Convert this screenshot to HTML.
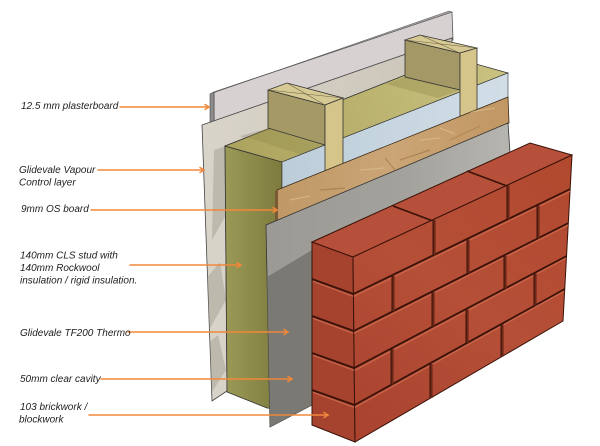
<!DOCTYPE html>
<html><head><meta charset="utf-8">
<style>html,body{margin:0;padding:0;background:#fff;width:600px;height:446px;overflow:hidden}</style>
</head>
<body>
<svg width="600" height="446" viewBox="0 0 600 446" xmlns="http://www.w3.org/2000/svg">
<defs>
<linearGradient id="vap" gradientUnits="userSpaceOnUse" x1="202" y1="0" x2="452" y2="0"><stop offset="0" stop-color="#d9d4c9"/><stop offset="1" stop-color="#cbc5b8"/></linearGradient>
<linearGradient id="oliveEnd" gradientUnits="userSpaceOnUse" x1="225" y1="0" x2="282" y2="0"><stop offset="0" stop-color="#9b9956"/><stop offset="1" stop-color="#7d7b3d"/></linearGradient>
<linearGradient id="oliveTop" gradientUnits="userSpaceOnUse" x1="225" y1="146" x2="508" y2="73"><stop offset="0" stop-color="#aba35d"/><stop offset="1" stop-color="#cac281"/></linearGradient>
<linearGradient id="blue" gradientUnits="userSpaceOnUse" x1="282" y1="0" x2="508" y2="0"><stop offset="0" stop-color="#bccdd9"/><stop offset="1" stop-color="#d2dee7"/></linearGradient>
<linearGradient id="osb" gradientUnits="userSpaceOnUse" x1="277" y1="0" x2="508" y2="0"><stop offset="0" stop-color="#bf9866"/><stop offset="0.5" stop-color="#cba576"/><stop offset="1" stop-color="#c19763"/></linearGradient>
<linearGradient id="gray" gradientUnits="userSpaceOnUse" x1="266" y1="0" x2="510" y2="0"><stop offset="0" stop-color="#9c9a95"/><stop offset="0.55" stop-color="#a3a19b"/><stop offset="1" stop-color="#b7b5af"/></linearGradient>
<linearGradient id="brick" gradientUnits="userSpaceOnUse" x1="355" y1="440" x2="570" y2="160"><stop offset="0" stop-color="#a9432f"/><stop offset="0.5" stop-color="#b54f37"/><stop offset="1" stop-color="#b1492f"/></linearGradient>
<clipPath id="osbClip"><polygon points="277,190 508,97 509,123 277,221"/></clipPath>
<clipPath id="vapClip"><polygon points="202,125 452,38 452,57 225,146 227,391 212,401"/></clipPath>
</defs>

<!-- Plasterboard -->
<polygon points="214,92 452,12 453,40 214,122" fill="#d8d1d1" stroke="#555" stroke-width="0.8"/>
<polygon points="210,94 449,11 452,12 214,92" fill="#a6a2a2" stroke="#555" stroke-width="0.5"/>
<polygon points="210,94 214,92 214,122 210,124" fill="#8d8d8d" stroke="#444" stroke-width="0.6"/>

<!-- Vapour layer -->
<polygon points="202,125 452,38 452,57 225,146 227,391 212,401" fill="url(#vap)" stroke="#444" stroke-width="0.8"/>
<g clip-path="url(#vapClip)" fill="#9e998d" opacity="0.45">
<polygon points="214,150 226,146 226,215 212,240"/>
<polygon points="205,280 220,262 226,300 209,330"/>
<polygon points="206,345 218,335 226,370 212,392"/>
<polygon points="300,118 330,108 318,124"/>
<polygon points="380,88 410,78 396,95"/>
<polygon points="240,136 262,130 250,142"/>
</g>

<!-- Olive insulation end face -->
<polygon points="225,146 282,162 282,410 267,408 227,392" fill="url(#oliveEnd)" stroke="#333" stroke-width="0.8"/>
<!-- Olive top -->
<polygon points="225,146 451,57 508,73 282,162" fill="url(#oliveTop)" stroke="#333" stroke-width="0.8"/>
<polygon points="268,128 325,145 300,154 246,137" fill="#8f8848" opacity="0.35"/>
<polygon points="405,77 460,90 438,98 386,84" fill="#8f8848" opacity="0.35"/>
<!-- Blue rigid face -->
<polygon points="282,162 508,73 508,98 282,190" fill="url(#blue)" stroke="#333" stroke-width="0.6"/>

<!-- Stud 1 -->
<polygon points="268,90 325,105 325,145 268,128" fill="#a59a66" stroke="#333" stroke-width="0.8"/>
<polygon points="268,90 287,83 343,98 325,105" fill="#d6c994" stroke="#333" stroke-width="0.8"/>
<line x1="268" y1="90" x2="343" y2="98" stroke="#6a6040" stroke-width="0.6"/>
<line x1="287" y1="83" x2="325" y2="105" stroke="#6a6040" stroke-width="0.6"/>
<polygon points="325,105 343,98 343,168 325,175" fill="#d5c58b" stroke="#333" stroke-width="0.8"/>
<!-- Stud 2 -->
<polygon points="405,40 460,53 460,90 405,77" fill="#a39866" stroke="#333" stroke-width="0.8"/>
<polygon points="405,40 420,35 477,48 460,53" fill="#d6c994" stroke="#333" stroke-width="0.8"/>
<line x1="405" y1="40" x2="477" y2="48" stroke="#6a6040" stroke-width="0.6"/>
<line x1="420" y1="35" x2="460" y2="53" stroke="#6a6040" stroke-width="0.6"/>
<polygon points="460,53 477,48 477,115 460,122" fill="#d5c58b" stroke="#333" stroke-width="0.8"/>

<!-- OSB -->
<polygon points="277,190 508,97 509,123 277,221" fill="url(#osb)" stroke="#3a2a1a" stroke-width="0.8"/>
<g clip-path="url(#osbClip)" stroke-width="1.2" opacity="0.6">
<line x1="290" y1="200" x2="310" y2="196" stroke="#e0c394"/>
<line x1="320" y1="190" x2="345" y2="188" stroke="#9c7445"/>
<line x1="300" y1="212" x2="330" y2="203" stroke="#a57d4c"/>
<line x1="360" y1="170" x2="385" y2="168" stroke="#e0c394"/>
<line x1="350" y1="190" x2="372" y2="180" stroke="#e2c898"/>
<line x1="400" y1="160" x2="430" y2="150" stroke="#9c7445"/>
<line x1="420" y1="140" x2="440" y2="138" stroke="#e0c394"/>
<line x1="450" y1="140" x2="480" y2="126" stroke="#a57d4c"/>
<line x1="470" y1="112" x2="495" y2="108" stroke="#e0c394"/>
<line x1="385" y1="158" x2="395" y2="170" stroke="#9c7445"/>
<line x1="440" y1="128" x2="455" y2="134" stroke="#e2c898"/>
</g>
<polygon points="275,191 278,190 278,221 275,222" fill="#7a5a35"/>

<!-- Membrane (TF200) -->
<polygon points="266,225 508,123 510,153 312,243 312,405 270,427" fill="url(#gray)" stroke="#333" stroke-width="0.8"/>
<polygon points="267,277 312,250 312,405 270,427" fill="#74736d" opacity="0.85"/>

<!-- Bricks: end face -->
<polygon points="312,242 353,257 355,442 312,425" fill="#a5432f" stroke="#3a1208" stroke-width="1"/>
<!-- top face -->
<polygon points="312,242 530,143 572,155 353,257" fill="#b6503a" stroke="#3a1208" stroke-width="1"/>
<line x1="393" y1="206" x2="433" y2="221" stroke="#3a1208" stroke-width="1.6"/>
<line x1="467" y1="171" x2="507" y2="186" stroke="#3a1208" stroke-width="1.6"/>
<!-- front face -->
<polygon points="353,257 572,155 563,321 355,442" fill="url(#brick)" stroke="#3a1208" stroke-width="1"/>

<!-- row joints front face -->
<g fill="none">
<g stroke="#3a1208" stroke-width="1.8">
<line x1="353.4" y1="294" x2="570.2" y2="189"/>
<line x1="353.8" y1="331" x2="568.4" y2="223"/>
<line x1="354.2" y1="368" x2="566.6" y2="256"/>
<line x1="354.6" y1="405" x2="564.8" y2="289"/>
<line x1="312" y1="279" x2="353.4" y2="294"/>
<line x1="312" y1="316" x2="353.8" y2="331"/>
<line x1="312" y1="353" x2="354.2" y2="368"/>
<line x1="312" y1="390" x2="354.6" y2="405"/>
</g>
<g stroke="#c8664b" stroke-width="1.3">
<line x1="354" y1="296.3" x2="570" y2="191.3"/>
<line x1="354" y1="333.3" x2="568" y2="225.3"/>
<line x1="355" y1="370.3" x2="566" y2="258.3"/>
<line x1="355" y1="407.3" x2="564" y2="291.3"/>
<line x1="313" y1="281.3" x2="353" y2="296.3"/>
<line x1="313" y1="318.3" x2="353" y2="333.3"/>
<line x1="313" y1="355.3" x2="354" y2="370.3"/>
<line x1="313" y1="392.3" x2="354" y2="407.3"/>
</g>
<!-- vertical joints -->
<g stroke="#6e2818" stroke-width="2.6">
<line x1="434.3" y1="220" x2="434.3" y2="255"/>
<line x1="508.3" y1="185.5" x2="508.3" y2="219"/>
<line x1="393.3" y1="276" x2="393.3" y2="311"/>
<line x1="468.3" y1="239.5" x2="468.3" y2="273.5"/>
<line x1="538.3" y1="205.5" x2="538.3" y2="238.5"/>
<line x1="433.3" y1="292" x2="433.3" y2="326.5"/>
<line x1="505.3" y1="256" x2="505.3" y2="288.5"/>
<line x1="392.3" y1="349" x2="392.3" y2="384.5"/>
<line x1="467.3" y1="309.5" x2="467.3" y2="343"/>
<line x1="535.3" y1="273.5" x2="535.3" y2="305.5"/>
<line x1="431.3" y1="364" x2="431.3" y2="398"/>
<line x1="502.3" y1="324.5" x2="502.3" y2="356.5"/>
</g>
<g stroke="#2e0e06" stroke-width="0.9">
<line x1="433" y1="220" x2="433" y2="255"/>
<line x1="507" y1="185.5" x2="507" y2="219"/>
<line x1="392" y1="276" x2="392" y2="311"/>
<line x1="467" y1="239.5" x2="467" y2="273.5"/>
<line x1="537" y1="205.5" x2="537" y2="238.5"/>
<line x1="432" y1="292" x2="432" y2="326.5"/>
<line x1="504" y1="256" x2="504" y2="288.5"/>
<line x1="391" y1="349" x2="391" y2="384.5"/>
<line x1="466" y1="309.5" x2="466" y2="343"/>
<line x1="534" y1="273.5" x2="534" y2="305.5"/>
<line x1="430" y1="364" x2="430" y2="398"/>
<line x1="501" y1="324.5" x2="501" y2="356.5"/>
</g>
</g>

<!-- Arrows -->
<g stroke="#f0883a" stroke-width="1.5" fill="none" stroke-linecap="round">
<line x1="120" y1="107" x2="209" y2="107"/><polyline points="205,104.5 209,107 205,109.5"/>
<line x1="98" y1="170" x2="204" y2="170"/><polyline points="200,167.5 204,170 200,172.5"/>
<line x1="91" y1="210" x2="277" y2="210"/><polyline points="273,207.5 277,210 273,212.5"/>
<line x1="130" y1="265" x2="241" y2="265"/><polyline points="237,262.5 241,265 237,267.5"/>
<line x1="128" y1="332" x2="288" y2="332"/><polyline points="284,329.5 288,332 284,334.5"/>
<line x1="101" y1="379" x2="292" y2="379"/><polyline points="288,376.5 292,379 288,381.5"/>
<line x1="89" y1="415" x2="328" y2="415"/><polyline points="324,412.5 328,415 324,417.5"/>
</g>

<!-- Labels -->
<g font-family="'Liberation Sans', sans-serif" font-style="italic" font-size="10" fill="#1e1e1e">
<text x="21" y="109">12.5 mm plasterboard</text>
<text x="19" y="173">Glidevale Vapour</text>
<text x="19" y="185.5">Control layer</text>
<text x="21" y="212">9mm OS board</text>
<text x="20" y="258.5">140mm CLS stud with</text>
<text x="20" y="271">140mm Rockwool</text>
<text x="20" y="283.5">insulation / rigid insulation.</text>
<text x="20" y="336">Glidevale TF200 Thermo</text>
<text x="20" y="382">50mm clear cavity</text>
<text x="20" y="410">103 brickwork /</text>
<text x="19" y="422.5">blockwork</text>
</g>
</svg>
</body></html>
